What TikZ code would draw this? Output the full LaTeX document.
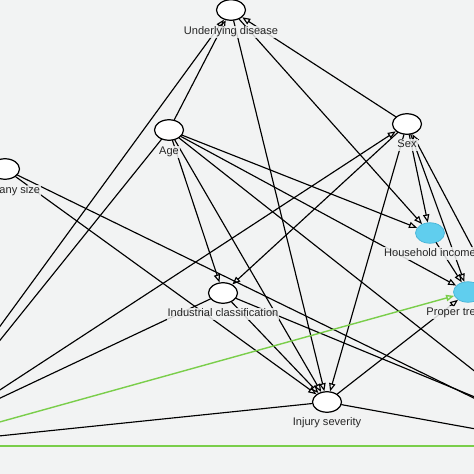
\documentclass[tikz,border=0pt]{standalone}
\usepackage{fontspec}
\setmainfont{Liberation Sans}
\usetikzlibrary{shapes.geometric,arrows.meta,positioning}
\definecolor{bgc}{RGB}{242,243,243}
\definecolor{adjc}{RGB}{96,206,238}
\definecolor{adjd}{RGB}{70,180,215}
\definecolor{causal}{RGB}{122,206,74}
\begin{document}
\begin{tikzpicture}[x=0.02cm, y=-0.02cm, font=\fontsize{6.3}{7}\selectfont, line join=round, line cap=round,
  var/.style={ellipse, draw, fill=white, minimum width=0.58cm, minimum height=0.41cm, inner sep=0pt, line width=0.7pt},
  adj/.style={var, draw=adjd, fill=adjc, line width=0.4pt},
  lbl/.style={fill=bgc, fill opacity=0.85, text opacity=1, inner sep=0.6pt, text height=4.6pt, text depth=1.3pt, text=black!85},
  arr/.style={-{Triangle[open, length=4.6pt, width=3.6pt]}, line width=0.65pt},
  grn/.style={draw=causal, line width=0.8pt}]
  \fill[bgc] (0,0) rectangle (474,474);
  \useasboundingbox (0,0) rectangle (474,474);
  \clip (0,0) rectangle (474,474);
  % variables
  \node[var] (ud) at (231,10) {};
  \node[var] (cs) at (5,169) {};
  \node[var] (age) at (169,130) {};
  \node[var] (sex) at (407,124) {};
  \node[adj] (hi) at (430,233) {};
  \node[adj] (pt) at (468,292) {};
  \node[var] (ic) at (223,293) {};
  \node[var] (is) at (327,402) {};
  % variables outside the frame
  \path
  (-40,381) coordinate (offUDL)
  (-40,390) coordinate (offAL)
  (520,407) coordinate (offAR)
  (574,447) coordinate (offCS)
  (-40,416) coordinate (offSL)
  (566,424) coordinate (offSR)
  (-40,417) coordinate (offICL)
  (574,438) coordinate (offICR)
  (-40,440) coordinate (offISL)
  (520,437) coordinate (offISR)
  (-40,433) coordinate (offGL)
  (-40,446) coordinate (offGa)
  (520,446) coordinate (offGb)
  ;
  \foreach \a/\b in {offUDL/ud, age/ud, sex/ud, ud/hi, ud/is, cs/is, cs/offCS,
    age/hi, age/pt, age/ic, age/is, age/offAL, age/offAR,
    sex/ic, sex/is, sex/hi, sex/pt, offSL/sex, offSR/sex,
    hi/pt, ic/is, ic/offICL, ic/offICR, is/pt, is/offISL, is/offISR}
    \draw[arr] (\a) -- (\b);
  \draw[arr, grn] (offGL) -- (pt);
  \draw[grn] (offGa) -- (offGb);
  % labels
  \node[lbl, below=2.5pt of ud] (udl) {Underlying disease};
  \node[lbl, below=2.5pt of cs] (csl) {Company size};
  \node[lbl, below=2.5pt of age] (agel) {Age};
  \node[lbl, below=2pt of sex] (sexl) {Sex};
  \node[lbl, below=2pt of hi] (hil) {Household income};
  \node[lbl, below=2pt of pt] (ptl) {Proper treatment};
  \node[lbl, below=2pt of ic] (icl) {Industrial classification};
  \node[lbl, below=2pt of is] (isl) {Injury severity};
\end{tikzpicture}
\end{document}
